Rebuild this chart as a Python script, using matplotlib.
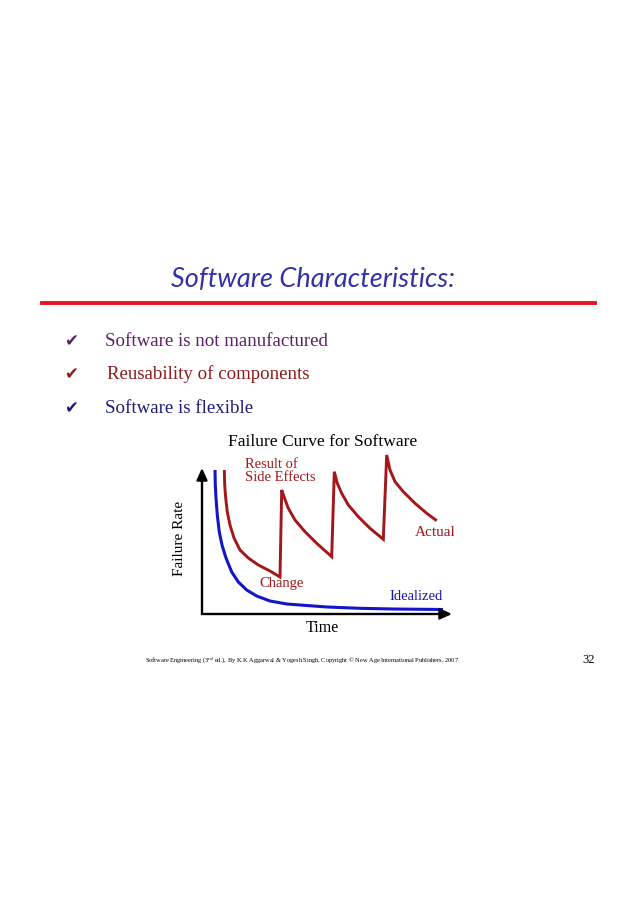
import matplotlib.pyplot as plt
from matplotlib.lines import Line2D

W, H = 638, 902

# slide text
title = "Software Characteristics:"
bullets = ["Software is not manufactured", "Reusability of components", "Software is flexible"]
bullet_colors = ["#5c1f66", "#8b1a1a", "#1c1c7c"]
footer = ("Software Engineering (3$^{rd}$ ed.), By K.K Aggarwal & Yogesh Singh, "
          "Copyright \u00a9 New Age International Publishers, 2007")
page_no = "32"

# failure curve data (time, failure rate)
ideal_t = [13, 13.3, 14, 15.3, 17.3, 20, 24, 29.7, 36.3, 44.7, 54.7, 68, 84.7, 98, 125,
           158, 191, 241]
ideal_rate = [144, 129, 116, 99, 82, 69, 56, 42, 32, 24, 18, 13, 10, 9, 7, 5.7, 5, 4.5]
actual_t = [22.3, 22.7, 23.7, 25.3, 28, 32, 38, 46.3, 56.3, 68, 78,
            79.7, 82, 86.3, 93, 103, 114.7, 129.7,
            132.3, 135.3, 139.7, 146.3, 156.3, 168, 181.3,
            184.7, 188, 193, 201.3, 213, 224.7, 234.7]
actual_rate = [144, 129, 116, 102, 89, 76, 64, 56, 49, 43, 37,
               124, 117.3, 105.7, 94, 82.3, 70.7, 57.3,
               142.3, 130.7, 120.7, 109, 97.3, 85.7, 74.7,
               159, 144, 132.3, 122.3, 110.7, 100.7, 93.3]

fig = plt.figure(figsize=(W / 100, H / 100), dpi=100)
fig.patch.set_facecolor("white")


def px(x, y):
    return x / W, 1 - y / H


fig.text(*px(313, 279), title, fontsize=19.5, style="italic", family="Lato",
         color="#3232a8", ha="center", va="center")
fig.add_artist(Line2D([42 / W, 595 / W], [1 - 303 / H] * 2, color="#e8141c", lw=2.8))

for i, (txt, c) in enumerate(zip(bullets, bullet_colors)):
    y = 341 + i * 33.5
    fig.text(*px(71, y), "\u2714", fontsize=12, color=c, ha="center", va="center",
             family="DejaVu Sans")
    fig.text(*px(105 + (2 if i == 1 else 0), y), txt, fontsize=13.6, color=c,
             family="Liberation Serif", va="center")

# chart
ax = fig.add_axes([202 / W, 1 - 614 / H, 250 / W, 164 / H])
ax.set_xlim(0, 250)
ax.set_ylim(0, 164)
ax.axis("off")
ax.plot(ideal_t, ideal_rate, color="#1414c8", lw=2.2, solid_capstyle="butt")
ax.plot(actual_t, actual_rate, color="#a3161a", lw=2.1, solid_joinstyle="miter",
        solid_capstyle="butt")
arrow = dict(arrowstyle="-|>,head_width=0.32,head_length=0.7", color="black", lw=1.7,
             shrinkA=0, shrinkB=0)
ax.annotate("", xy=(0, 146), xytext=(0, 0), xycoords="data", arrowprops=arrow,
            annotation_clip=False)
ax.annotate("", xy=(250, 0), xytext=(0, 0), xycoords="data", arrowprops=arrow,
            annotation_clip=False)

serif = "Liberation Serif"
fig.text(*px(323, 442), "Failure Curve for Software", fontsize=12.6, family=serif,
         ha="center", va="center")
fig.text(*px(245, 471), "Result of\nSide Effects", fontsize=10.5, family=serif,
         color="#a3161a", ha="left", va="center", linespacing=1.0)
fig.text(*px(435, 532), "Actual", fontsize=11, family=serif, color="#a3161a",
         ha="center", va="center")
fig.text(*px(282, 583), "Change", fontsize=10.5, family=serif, color="#a3161a",
         ha="center", va="center")
fig.text(*px(416, 596), "Idealized", fontsize=10.5, family=serif, color="#1414b4",
         ha="center", va="center")
fig.text(*px(322, 628), "Time", fontsize=11.5, family=serif, ha="center", va="center")
fig.text(*px(180, 538), "Failure Rate", fontsize=11, family=serif, rotation=90,
         ha="center", va="center")

fig.text(*px(145, 660), footer, fontsize=4.55, family=serif, va="center")
fig.text(*px(589, 660), page_no, fontsize=9, family=serif, ha="center", va="center")

plt.savefig("out.png", dpi=100, facecolor="white")
